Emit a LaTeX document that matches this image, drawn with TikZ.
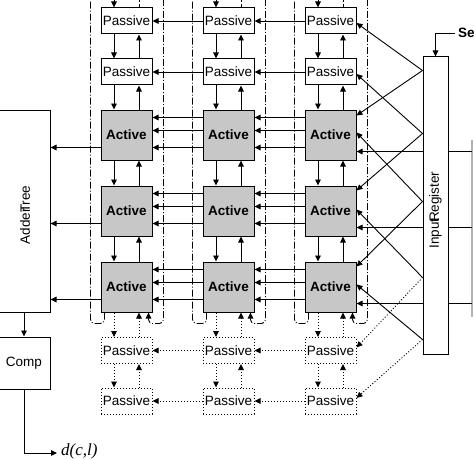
\documentclass[tikz,border=0pt]{standalone}
\usepackage{fontspec}
\setmainfont{Liberation Sans}
\newfontfamily\serifit{Liberation Serif}
\usetikzlibrary{arrows.meta,calc}
\begin{document}
\begin{tikzpicture}[x=1pt,y=-1pt,
  arr/.style={-{Triangle[length=6pt,width=5.5pt]}, line width=0.9pt},
  ln/.style={line width=0.9pt},
  box/.style={draw, line width=1pt, inner sep=0pt, font=\fontsize{13.5}{15}\selectfont},
  pas/.style={box, minimum width=51pt, minimum height=26pt},
  act/.style={box, fill=black!22, minimum width=51pt, minimum height=50pt, font=\fontsize{13.5}{15}\selectfont\bfseries},
  dotsty/.style={dash pattern=on 1pt off 2pt},
  dpas/.style={pas, dotsty},
  dotarr/.style={arr, dotsty},
  dashdot/.style={line width=0.9pt, dash pattern=on 7pt off 2pt on 1pt off 2pt},
]
\useasboundingbox (0,0) rectangle (474,460);
\coordinate (top) at (0,-1);

% PE array
\foreach \c/\x in {1/126.5,2/228.5,3/330.5}{
  \node[pas] (p1\c) at (\x,21) {Passive};
  \node[pas] (p2\c) at (\x,72) {Passive};
  \node[act] (a1\c) at (\x,135) {Active};
  \node[act] (a2\c) at (\x,211) {Active};
  \node[act] (a3\c) at (\x,287) {Active};
  \node[dpas] (d1\c) at (\x,350.5) {Passive};
  \node[dpas] (d2\c) at (\x,401) {Passive};
}

% vertical links
\foreach \c in {1,2,3}{
  \foreach \u/\l in {p1/p2, p2/a1, a1/a2, a2/a3}{
    \draw[arr] ([xshift=-12.5pt]\u\c.south) -- ([xshift=-12.5pt]\l\c.north);
    \draw[arr] ([xshift=12.5pt]\l\c.north) -- ([xshift=12.5pt]\u\c.south);
  }
  \foreach \u/\l in {a3/d1, d1/d2}{
    \draw[dotarr] ([xshift=-12.5pt]\u\c.south) -- ([xshift=-12.5pt]\l\c.north);
    \draw[dotarr] ([xshift=12.5pt]\l\c.north) -- ([xshift=12.5pt]\u\c.south);
  }
  \path ($(p1\c.north)+(-12.5,0)$) coordinate (tl\c)
        ($(p1\c.north)+(12.5,0)$) coordinate (tr\c)
        ($(a3\c.south west)+(-10,0)$) coordinate (dl\c)
        ($(a3\c.south east)+(11,0)$) coordinate (dr\c);
  \draw[arr] (tl\c |- top) -- (tl\c);
  \draw[ln, densely dashed] (tr\c) -- (tr\c |- top);
  \draw[dashdot, rounded corners=4pt] ($(a3\c.south west)+(4,0)$) -- ++(0,11) -| (dl\c |- top);
  \draw[dashdot, rounded corners=4pt, -{Triangle[length=6pt,width=5.5pt]}] (dr\c |- top) |- ($(a3\c.south east)+(-4,11)$) -- ($(a3\c.south east)+(-4,0)$);
}

% horizontal links between columns
\foreach \i/\j in {1/2, 2/3}{
  \draw[arr] (p1\j.west) -- (p1\i.east);
  \draw[arr] (p2\j.west) -- (p2\i.east);
  \foreach \r in {1,2,3}{
    \foreach \o in {8,21,38}{
      \draw[arr] ([yshift=-\o pt]a\r\j.north west) -- ([yshift=-\o pt]a\r\i.north east);
    }
  }
  \draw[dotarr] (d1\j.west) -- (d1\i.east);
  \draw[dotarr] (d2\j.west) -- (d2\i.east);
}

% adder tree and comparator
\node[box, minimum width=52pt, minimum height=202pt] (add) at (24,211) {};
\node[rotate=90, inner sep=0pt, font=\fontsize{13.5}{15}\selectfont] (addt) at (25,215) {Adde\rlap{r}Tree};
\node[box, minimum width=52pt, minimum height=52pt] (comp) at (24,363) {Comp};
\foreach \r in {1,2,3}{
  \path ([yshift=-38pt]a\r1.north west) coordinate (o\r);
  \draw[arr] (o\r) -- (o\r -| add.east);
}
\draw[arr] (add.south) -- (comp.north);
\node[anchor=base west, inner sep=0pt, font=\fontsize{17}{19}\selectfont\serifit\itshape] (dcl) at (61,455) {d(c,l)};
\coordinate (dclin) at (57,453);
\draw[arr] (comp.south) |- (dclin);

% input register
\node[draw, line width=1pt, minimum width=25pt, minimum height=297pt, inner sep=0pt] (reg) at (435.5,205.5) {};
\node[rotate=90, inner sep=0pt, font=\fontsize{13.5}{15}\selectfont] (regt) at (435.5,210) {Inpu\rlap{t}Register};
\node[anchor=west, inner sep=0pt, font=\fontsize{13.5}{15}\selectfont\bfseries] (se) at (458,33) {Se};
\draw[arr] ([xshift=-3pt]se.west) -| (reg.north);

\path ([yshift=-14pt]reg.north west) coordinate (r1)
      ([yshift=-77pt]reg.north west) coordinate (r2)
      ([yshift=-145pt]reg.north west) coordinate (r3)
      ([yshift=-221pt]reg.north west) coordinate (r4)
      ([yshift=-283pt]reg.north west) coordinate (r5);
\draw[arr] (r1) -- ([yshift=-2pt]p13.east);
\draw[arr] (r1) -- ([yshift=-6pt]a13.north east);
\draw[arr] (r2) -- ([yshift=-2pt]p23.east);
\draw[arr] (r2) -- ([yshift=-5pt]a23.north east);
\draw[arr] (r3) -- ([yshift=-23pt]a13.north east);
\draw[arr] (r3) -- ([yshift=-5pt]a33.north east);
\draw[arr] (r4) -- ([yshift=-24pt]a23.north east);
\draw[dotarr] (r4) -- ([yshift=3pt]d13.east);
\draw[arr] (r5) -- ([yshift=-23pt]a33.north east);
\draw[dotarr] (r5) -- ([yshift=3pt]d23.east);

\coordinate (g1) at (472,140);
\coordinate (g2) at (472,317);
\draw[black!30, line width=2pt] (g1) -- (g2);
\foreach \r in {1,2,3}{
  \path ([yshift=-42pt]a\r3.north east) coordinate (h\r);
  \draw[arr] (h\r -| reg.west) -- (h\r);
  \draw[ln] (h\r -| reg.east) -- (h\r -| g1);
}
\end{tikzpicture}
\end{document}
